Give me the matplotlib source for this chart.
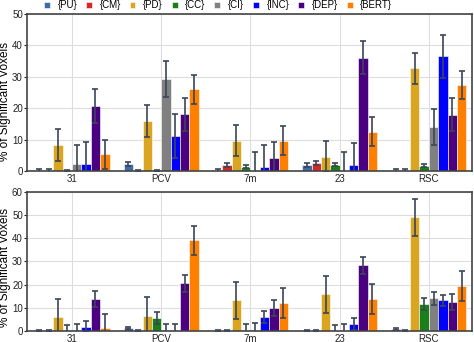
import matplotlib
matplotlib.use("Agg")
import matplotlib.pyplot as plt
import numpy as np

plt.rcParams['font.family'] = ['Liberation Sans', 'DejaVu Sans']

regions = ["31", "PCV", "7m", "23", "RSC"]
models = ["{PU}", "{CM}", "{PD}", "{CC}", "{CI}", "{INC}", "{DEP}", "{BERT}"]
colors = ["#3a6ea5", "#d62728", "#daa520", "#1a7f1a", "#808080", "#0000ff", "#4b0082", "#ff8000"]

# top panel: rows = models, cols = regions
top_vals = [
    [0.0, 2.3, 0.0, 2.0, 0.0],     # PU
    [0.0, 0.0, 1.8, 2.5, 0.0],     # CM
    [8.3, 15.9, 9.7, 4.6, 32.7],   # PD
    [0.0, 0.0, 1.3, 2.0, 1.7],     # CC
    [2.2, 29.3, 0.0, 0.0, 14.0],   # CI
    [2.3, 11.2, 1.3, 2.0, 36.5],   # INC
    [20.8, 18.0, 4.0, 36.1, 17.9], # DEP
    [5.3, 26.0, 9.7, 12.5, 27.3],  # BERT
]
top_err = [
    [0.5, 0.7, 0.5, 0.6, 0.5],
    [0.5, 0.3, 0.6, 0.7, 0.5],
    [5.0, 5.0, 5.0, 5.0, 5.0],
    [0.3, 0.3, 0.5, 0.5, 0.5],
    [6.0, 5.8, 6.0, 6.0, 5.8],
    [7.0, 7.0, 7.0, 6.8, 6.9],
    [5.4, 5.3, 5.3, 5.3, 5.2],
    [4.7, 4.6, 4.5, 4.6, 4.5],
]
bot_vals = [
    [0.0, 1.4, 0.0, 0.0, 1.0],
    [0.0, 0.0, 0.0, 0.0, 0.0],
    [6.0, 6.7, 13.2, 15.8, 49.0],
    [0.0, 5.7, 0.0, 0.0, 11.6],
    [0.0, 0.0, 0.0, 0.0, 14.1],
    [1.9, 0.0, 6.0, 3.1, 13.2],
    [13.8, 20.5, 9.8, 28.3, 12.5],
    [1.3, 39.1, 12.2, 13.8, 19.4],
]
bot_err = [
    [0.3, 0.5, 0.3, 0.3, 0.5],
    [0.3, 0.3, 0.3, 0.3, 0.3],
    [8.0, 8.0, 8.0, 8.0, 8.0],
    [2.7, 2.5, 3.1, 2.7, 2.6],
    [3.1, 3.1, 3.6, 3.1, 2.7],
    [2.5, 2.9, 2.5, 2.7, 2.4],
    [3.6, 3.7, 3.5, 3.5, 3.4],
    [6.0, 6.3, 6.4, 6.3, 6.3],
]

fig = plt.figure(figsize=(4.74, 3.42), dpi=100)
ax1 = fig.add_axes([0.057, 0.500, 0.938, 0.459])
ax2 = fig.add_axes([0.057, 0.032, 0.938, 0.407])

x = np.arange(len(regions))
w = 0.105
n = len(models)

def draw(ax, vals, errs, ymax, label_y):
    for i in range(n):
        pos = x + (i - (n - 1) / 2) * w
        ax.bar(pos, vals[i], width=w, color=colors[i], edgecolor='white',
               linewidth=0.4, label=models[i], zorder=2)
        ax.errorbar(pos, vals[i], yerr=errs[i], fmt='none', ecolor='#3b4656',
                    elinewidth=1.2, capsize=2.2, capthick=1.2, zorder=3)
    ax.set_xlim(-0.505, 4.48)
    ax.set_ylim(0, ymax)
    ax.set_yticks(np.arange(0, ymax + 1, 10))
    ax.set_xticks(x)
    ax.set_xticklabels(regions)
    ax.grid(True, color='#dddddd', linewidth=0.8, zorder=0)
    ax.set_axisbelow(True)
    for s in ax.spines.values():
        s.set_color('#444444')
        s.set_linewidth(1.2)
    ax.tick_params(axis='both', labelsize=7, colors='#222222', length=2, pad=1)
    ax.tick_params(axis='x', length=0, pad=2)
    ax.set_ylabel("% of Significant Voxels", fontsize=8.5)
    ax.yaxis.set_label_coords(-0.035, label_y)

draw(ax1, top_vals, top_err, 50, 0.445)
draw(ax2, bot_vals, bot_err, 60, 0.46)

h, l = ax1.get_legend_handles_labels()
fig.legend(h, l, loc='center', bbox_to_anchor=(0.46, 0.985), ncol=8, frameon=False,
           fontsize=7, handlelength=0.6, handleheight=0.6, handletextpad=0.8,
           columnspacing=0.9, borderaxespad=0, borderpad=0)

fig.savefig("out.png", dpi=100)
